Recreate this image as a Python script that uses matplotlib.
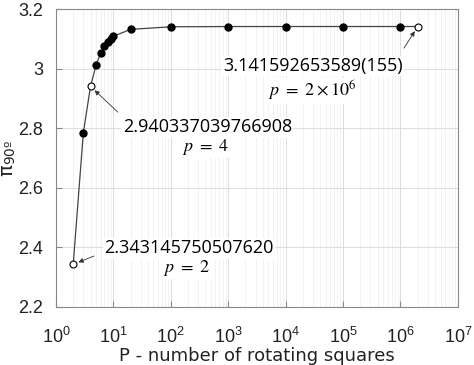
import matplotlib
matplotlib.use('Agg')
import matplotlib.pyplot as plt
from matplotlib.ticker import FixedLocator, NullFormatter

# data
p_vals = [2, 3, 4, 5, 6, 7, 8, 9, 10, 20, 100, 1000, 1e4, 1e5, 1e6, 2e6]
pi_vals = [2.343145750507620, 2.785, 2.940337039766908, 3.012, 3.052, 3.075, 3.088,
           3.099, 3.109, 3.132, 3.1407, 3.1415, 3.14159, 3.14159, 3.14159, 3.141592653589]
open_idx = [0, 2, 15]   # highlighted points (open markers)

notes = ['2.343145750507620', '2.940337039766908', '3.141592653589(155)']
note_p = [r'$p\ =\ 2$', r'$p\ =\ 4$', r'$p\ =\ 2\times10^{6}$']
x_ticks = [1, 10, 100, 1e3, 1e4, 1e5, 1e6, 1e7]
x_ticklabels = [r'$\mathregular{10^{%d}}$' % k for k in range(8)]

plt.rcParams['mathtext.fontset'] = 'stix'

fig = plt.figure(figsize=(4.74, 3.65), dpi=100)
ax = fig.add_axes([0.118, 0.159, 0.848, 0.816])

ax.plot(p_vals, pi_vals, '-', color='#444444', lw=0.9, zorder=3)
filled = [i for i in range(len(p_vals)) if i not in open_idx]
ax.plot([p_vals[i] for i in filled], [pi_vals[i] for i in filled], 'o',
        ms=5, mfc='black', mec='black', zorder=4)
ax.plot([p_vals[i] for i in open_idx], [pi_vals[i] for i in open_idx], 'o',
        ms=5, mfc='white', mec='black', mew=0.8, zorder=4)

ax.set_xscale('log')
ax.set_xlim(1, 1e7)
ax.set_ylim(2.2, 3.2)
ax.set_yticks([2.2, 2.4, 2.6, 2.8, 3.0, 3.2])
ax.set_yticklabels(['2.2', '2.4', '2.6', '2.8', '3', '3.2'])
ax.set_xticks(x_ticks)
ax.set_xticklabels(x_ticklabels)
minors = [m * 10**k for k in range(7) for m in range(2, 10)]
ax.xaxis.set_minor_locator(FixedLocator(minors))
ax.xaxis.set_minor_formatter(NullFormatter())

ax.grid(True, which='major', color='#dcdcdc', lw=0.7)
ax.grid(True, which='minor', axis='x', color='#f0f0f0', lw=0.6)
ax.set_axisbelow(True)
for s in ax.spines.values():
    s.set_color('#888888')
    s.set_linewidth(0.8)
ax.tick_params(which='both', direction='in', color='#888888', labelsize=13,
               labelcolor='#222222', top=False, right=False)
ax.tick_params(which='minor', length=0)
ax.tick_params(which='major', length=4)
ax.tick_params(axis='y', pad=9)
ax.tick_params(axis='x', pad=14)
for lab in ax.get_xticklabels() + ax.get_yticklabels():
    lab.set_family('Liberation Sans')

ax.set_xlabel('P - number of rotating squares', fontsize=13, color='#222222', labelpad=0)
ax.set_ylabel('π$_{\\mathregular{90º}}$', fontsize=14, color='#222222', labelpad=0)

box = dict(fc='white', ec='none', pad=1)
# number label positions and arrows (data coords)
num_xy = [(207, 2.397), (434, 2.803), (29900, 3.009)]
p_xy = [(191, 2.331), (410, 2.737), (29000, 2.925)]
arrow_tail = [(4.6, 2.371), (12.0, 2.854), (1.15e6, 3.069)]
for k, i in enumerate(open_idx):
    ax.text(num_xy[k][0], num_xy[k][1], notes[k], fontsize=13, family='Open Sans',
            ha='center', va='center', color='black', bbox=box, zorder=5)
    ax.text(p_xy[k][0], p_xy[k][1], note_p[k], fontsize=13,
            ha='center', va='center', color='black', bbox=box, zorder=5)
    ax.annotate('', xy=(p_vals[i], pi_vals[i]), xytext=arrow_tail[k],
                arrowprops=dict(arrowstyle='-|>', color='#333333', lw=0.6,
                                mutation_scale=7, shrinkA=0, shrinkB=4), zorder=5)

fig.savefig('out.png', dpi=100)
